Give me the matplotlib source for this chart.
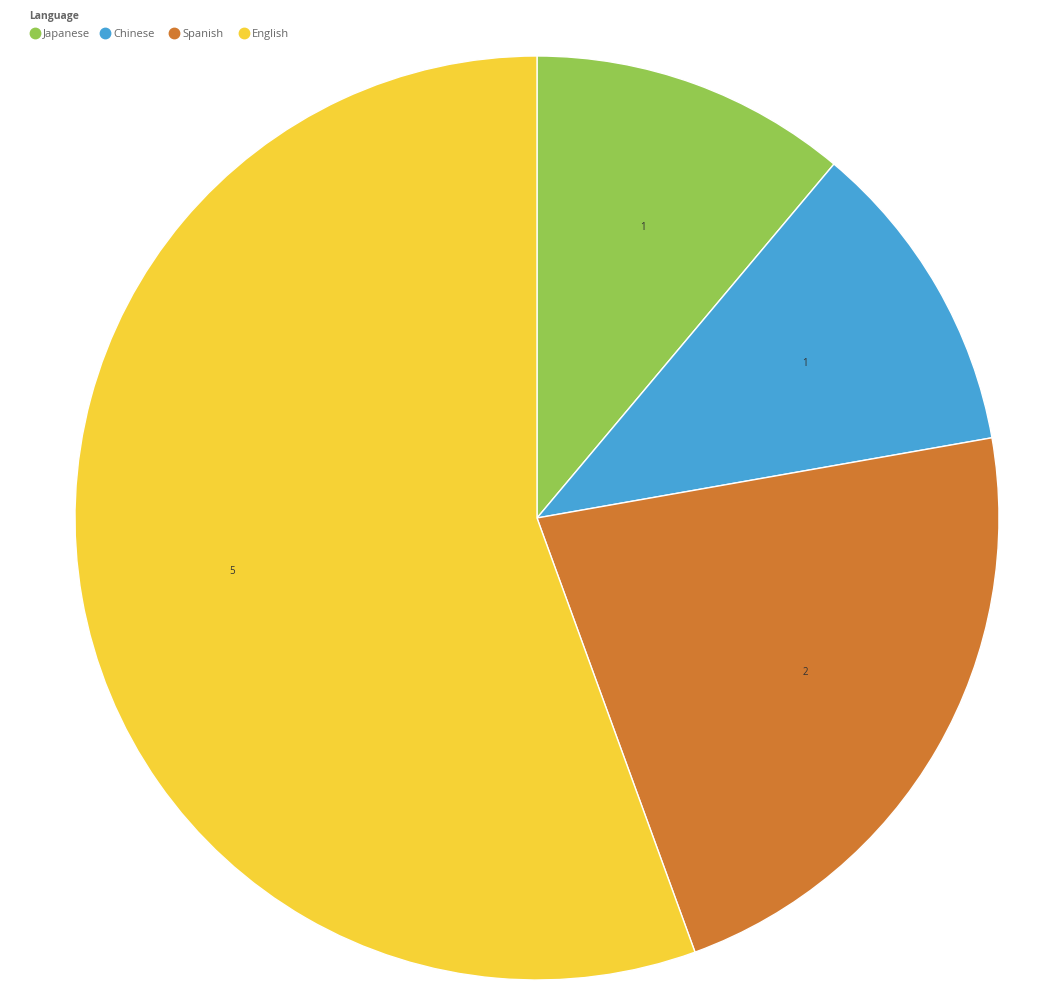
import matplotlib
matplotlib.use('Agg')
import matplotlib.pyplot as plt
from matplotlib.lines import Line2D

languages = ['Japanese', 'Chinese', 'Spanish', 'English']
counts = [1, 1, 2, 5]
colors = ['#93C94F', '#45A4D8', '#D27A30', '#F6D235']

plt.rcParams['font.family'] = ['Open Sans', 'DejaVu Sans']

W, H = 1037, 999
fig = plt.figure(figsize=(W / 100, H / 100), dpi=100)

# pie centre ~ (537, 518) px, radius ~ 462 px
cx, cy, r = 537, 518, 462
ax = fig.add_axes([(cx - r) / W, (H - cy - r) / H, 2 * r / W, 2 * r / H])
wedges, texts = ax.pie(counts, colors=colors, startangle=90, counterclock=False,
                       labels=[str(c) for c in counts], labeldistance=0.67,
                       wedgeprops=dict(edgecolor='white', linewidth=1),
                       textprops=dict(fontsize=7, color='#333333'))
for t in texts:
    t.set_horizontalalignment('center')
    t.set_verticalalignment('center')
ax.set_xlim(-1, 1)
ax.set_ylim(-1, 1)
ax.set_aspect('equal')
ax.axis('off')

# legend, laid out by hand (pixel positions from the reference)
fig.text(29 / W, 1 - 16 / H, 'Language', fontsize=7.5, fontweight='bold',
         color='#666666', va='center', ha='left')
marker_x = [35, 105, 174, 244]
for x, name, c in zip(marker_x, languages, colors):
    fig.add_artist(Line2D([x / W], [1 - 33 / H], transform=fig.transFigure,
                          marker='o', markersize=7.5, linestyle='',
                          markerfacecolor=c, markeredgecolor=c))
    fig.text((x + 8) / W, 1 - 34.5 / H, name, fontsize=8, color='#666666',
             va='center', ha='left')

fig.savefig('out.png', dpi=100, facecolor='white')
